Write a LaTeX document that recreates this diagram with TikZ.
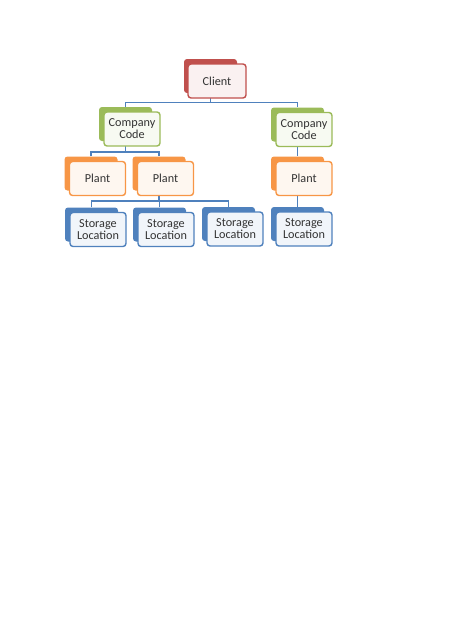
\documentclass[tikz,border=0pt]{standalone}
\usepackage{fontspec}
\setmainfont{Carlito}
\usetikzlibrary{backgrounds}
\definecolor{cred}{HTML}{C0504D}
\definecolor{cgreen}{HTML}{9BBB59}
\definecolor{corange}{HTML}{F79646}
\definecolor{cblue}{HTML}{4F81BD}
\begin{document}
\begin{tikzpicture}[x=1pt,y=-1pt,
    back/.style={rectangle,rounded corners=3pt,minimum width=53pt,minimum height=34pt,inner sep=0pt},
    box/.style={rectangle,rounded corners=3pt,line width=1.4pt,minimum width=56pt,minimum height=34pt,
      inner sep=1pt,align=center,font=\fontsize{12.2}{12}\selectfont,text=black!80},
    link/.style={draw=cblue,line width=1.6pt}]
      \useasboundingbox (0,0) rectangle (474,632);
      % client
      \node[back,fill=cred] (clientb) at (210.5,76) {};
      \node[box,minimum width=58pt,draw=cred,fill=cred!8] (client) at (217,81) {Client};
      % company codes
      \node[back,fill=cgreen] (cc1b) at (125.5,124) {};
      \node[box,draw=cgreen,fill=cgreen!8] (cc1) at (132,129) {Company\\Code};
      \node[back,fill=cgreen] (cc2b) at (297.5,124.5) {};
      \node[box,draw=cgreen,fill=cgreen!8] (cc2) at (304,129.5) {Company\\Code};
      % plants
      \node[back,fill=corange] (p1b) at (91,173.5) {};
      \node[box,draw=corange,fill=corange!8] (p1) at (97.5,178.5) {Plant};
      \node[back,fill=corange] (p2b) at (159,173.5) {};
      \node[box,draw=corange,fill=corange!8] (p2) at (165.5,178.5) {Plant};
      \node[back,fill=corange] (p3b) at (297.5,173.5) {};
      \node[box,draw=corange,fill=corange!8] (p3) at (304,178.5) {Plant};
      % storage locations
      \node[back,fill=cblue] (s1b) at (91.5,224.5) {};
      \node[box,draw=cblue,fill=cblue!8] (s1) at (98,229.5) {Storage\\Location};
      \node[back,fill=cblue] (s2b) at (159.5,224.5) {};
      \node[box,draw=cblue,fill=cblue!8] (s2) at (166,229.5) {Storage\\Location};
      \node[back,fill=cblue] (s3b) at (228.5,224) {};
      \node[box,draw=cblue,fill=cblue!8] (s3) at (235,229) {Storage\\Location};
      \node[back,fill=cblue] (s4b) at (297.5,224) {};
      \node[box,draw=cblue,fill=cblue!8] (s4) at (304,229) {Storage\\Location};
      % connectors
      \begin{scope}[on background layer]
        \coordinate (bus1) at (0,102.5);
        \coordinate (bus2) at (0,152);
        \coordinate (bus3) at (0,201);
        \draw[link] (clientb) -- (clientb |- bus1);
        \draw[link] (cc1b) |- (cc2b |- bus1) -- (cc2b);
        \draw[link] (cc1b) -- (cc1b |- bus2);
        \draw[link] (p1b) |- (p2b |- bus2) -- (p2b);
        \draw[link] (p2b) -- (p2b |- bus3);
        \draw[link] (s1b) |- (s3b |- bus3) -- (s3b);
        \draw[link] (s2b) -- (s2b |- bus3);
        \draw[link] (cc2b) -- (p3b);
        \draw[link] (p3b) -- (s4b);
      \end{scope}
    \end{tikzpicture}
\end{document}
